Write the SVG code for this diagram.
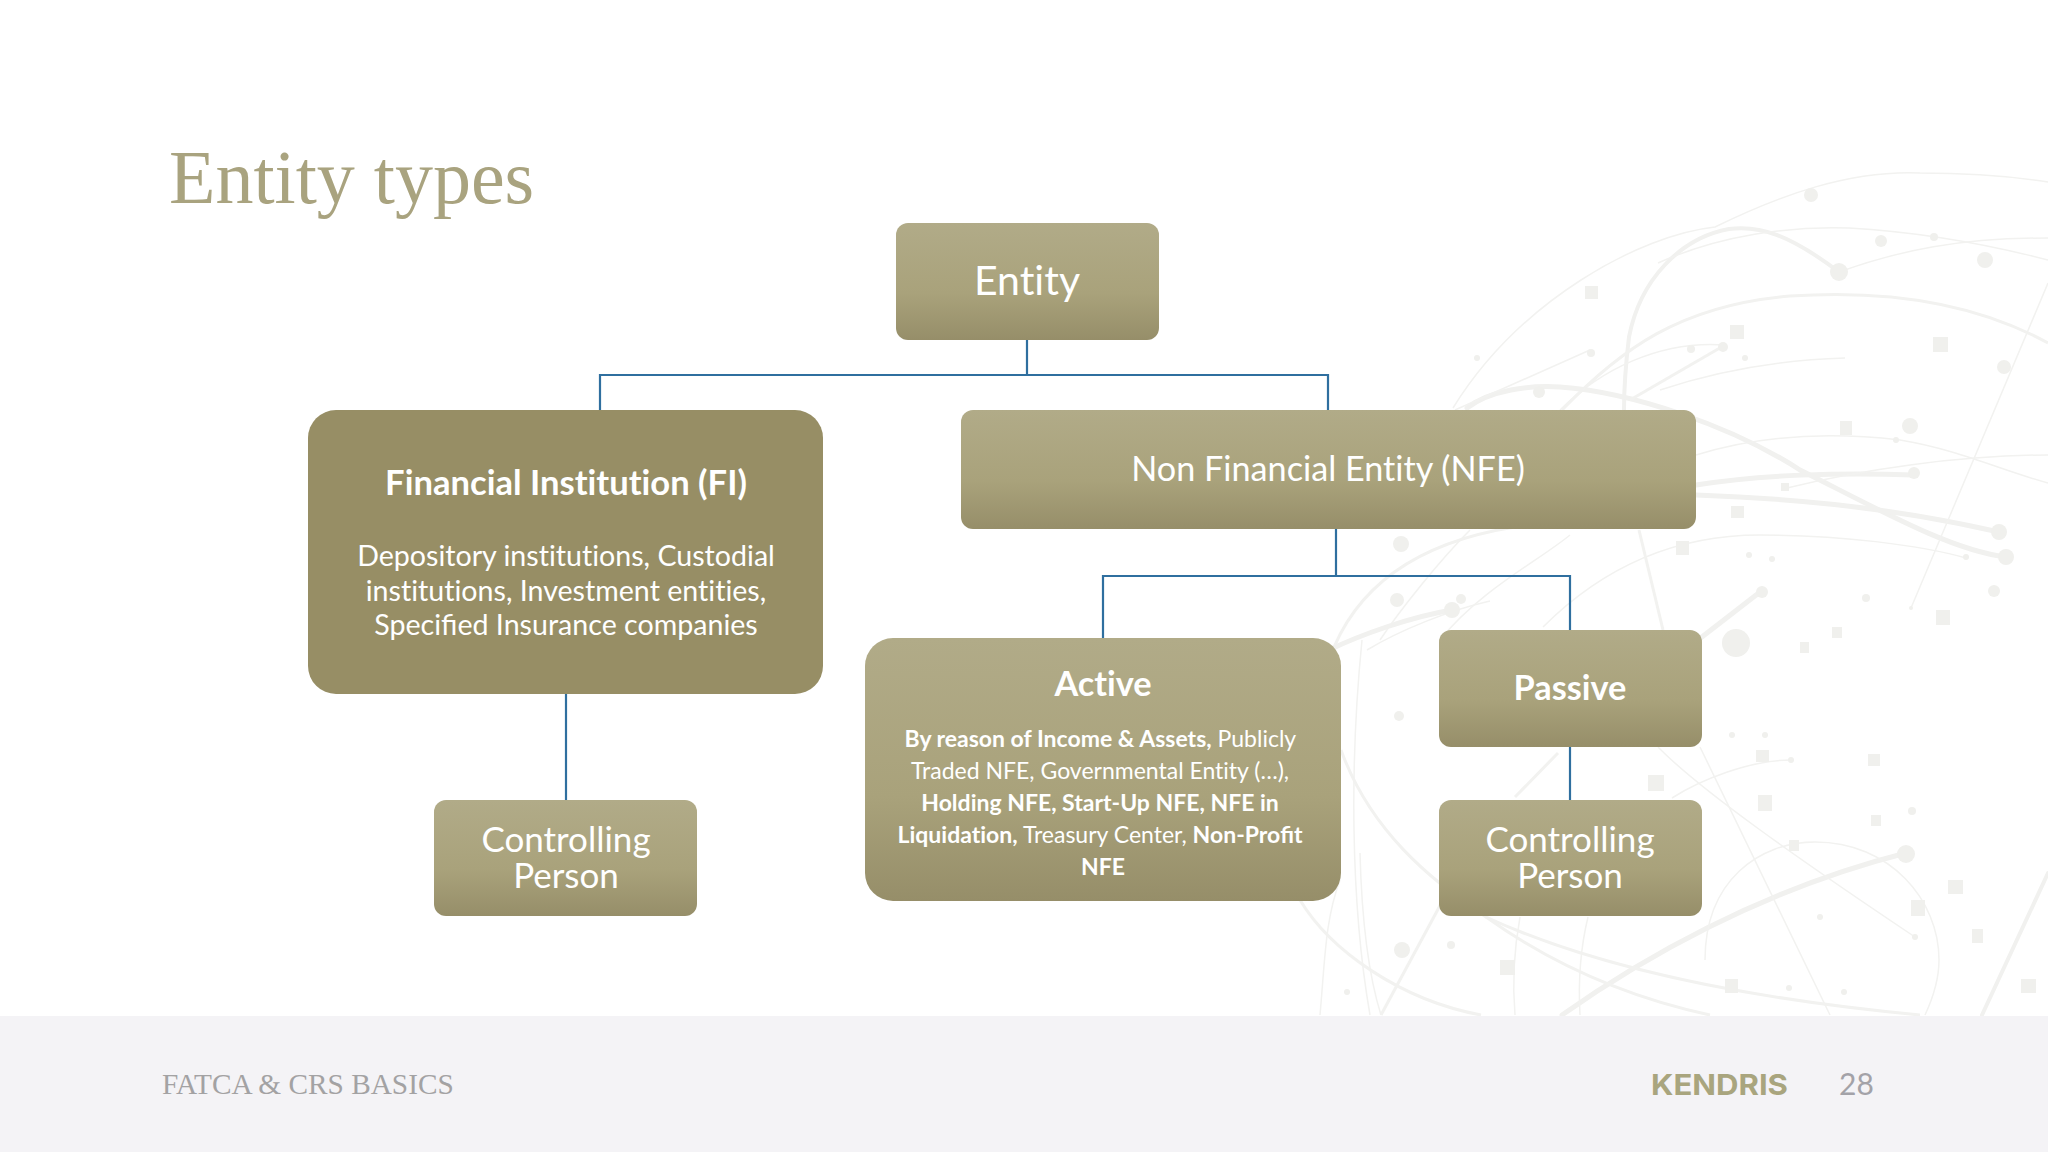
<svg xmlns="http://www.w3.org/2000/svg" width="2048" height="1152" viewBox="0 0 2048 1152">
<style>
.t{font-family:Lato,"Open Sans",sans-serif;fill:#fff;text-anchor:middle;font-variant-ligatures:none}
.b{font-weight:700}
.l{font-variant-ligatures:common-ligatures}
.c{fill:none;stroke:#2f6f9f;stroke-width:2.2}
.s1{fill:none;stroke:#f2f2f0;stroke-width:1.5}
.s2{fill:none;stroke:#f2f2f0;stroke-width:3}
.s3{fill:none;stroke:#f1f1ef;stroke-width:5;stroke-linecap:round}
.d{fill:#f0f0ed}
</style>
<defs>
<linearGradient id="g" x1="0" y1="0" x2="0" y2="1"><stop offset="0" stop-color="#b1ab88"/><stop offset=".6" stop-color="#a9a27b"/><stop offset="1" stop-color="#968e69"/></linearGradient>
</defs>
<rect width="2048" height="1152" fill="#fff"/>
<g id="background">
<path class="s1" d="M1453 408C1520 300 1640 235 1715 227C1780 195 1850 170 1920 173C1970 173 2010 176 2048 182"/>
<path class="s3" style="stroke-width:4" d="M1839 272C1790 235 1760 225 1729 229C1680 238 1640 280 1629 337C1625 370 1624 390 1624 410"/>
<path class="s1" d="M1839 272C1900 250 1960 238 2048 238"/>
<path class="s1" d="M1658 263C1720 235 1790 226 1849 228C1920 232 1990 245 2048 260"/>
<path class="s2" d="M1562 410C1620 350 1680 305 1790 296C1880 290 1970 300 2048 343"/>
<path class="s3" d="M1467 408C1490 390 1530 385 1560 387C1630 392 1730 425 1800 470C1880 510 1950 550 2006 557"/>
<path class="s1" d="M1696 455C1760 435 1830 432 1900 440C1960 450 2000 470 2048 483"/>
<path class="s3" d="M1696 485C1760 475 1840 472 1913 475"/>
<path class="s3" d="M1696 495C1780 498 1880 505 1999 532"/>
<path class="s1" d="M1787 488C1860 470 1960 455 2048 455"/>
<path class="s1" d="M1543 627C1600 570 1670 535 1760 535C1840 535 1920 545 1966 558"/>
<path class="s3" d="M1698 640L1760 592"/>
<path class="s1" d="M1911 608L2048 283"/>
<path class="s2" d="M1639 530L1663 630"/>
<path class="s2" d="M1329 660C1350 600 1400 545 1515 527"/>
<path class="s1" d="M1380 640C1400 610 1440 560 1470 530"/>
<path class="s1" d="M1367 650C1400 630 1450 610 1490 601"/>
<path class="s1" d="M1440 640C1480 590 1540 560 1570 535"/>
<path class="s3" d="M1329 650C1360 635 1410 617 1452 610"/>
<path class="s1" d="M1455 410L1590 350"/>
<path class="s1" d="M1560 410C1600 370 1660 340 1725 345"/>
<path class="s2" d="M1630 400L1725 345"/>
<path class="s1" d="M1660 390C1720 370 1780 360 1845 358"/>
<path class="s3" d="M1562 1015C1640 960 1760 890 1906 853"/>
<path class="s1" d="M1705 960C1705 880 1760 842 1815 842C1890 842 1939 900 1939 960C1939 980 1932 1000 1925 1015"/>
<path class="s3" style="stroke-width:4" d="M1982 1015L2048 873"/>
<path class="s2" d="M1341 750C1370 830 1430 880 1486 917C1560 970 1640 1000 1710 1015"/>
<path class="s2" d="M1300 900C1330 950 1400 1000 1481 1015"/>
<path class="s1" d="M1360 853C1362 930 1370 980 1381 1015"/>
<path class="s2" d="M1486 917C1600 970 1760 1000 1920 1015"/>
<path class="s1" d="M1672 798C1700 780 1750 760 1791 760"/>
<path class="s1" d="M1658 747C1700 790 1800 860 1915 937"/>
<path class="s1" d="M1700 747L1830 1015"/>
<path class="s2" d="M1381 1015L1443 900"/>
<path class="s2" d="M1515 797L1558 753"/>
<path class="s1" d="M1515 1015C1512 980 1514 950 1520 917"/>
<path class="s1" d="M1580 1015C1578 980 1580 950 1588 917"/>
<path class="s1" d="M1362 640C1350 760 1350 900 1370 1015"/>
<path class="s1" d="M1320 1015C1325 960 1325 920 1340 880"/>
<g class="d">
<circle cx="1811" cy="195" r="7"/><circle cx="1839" cy="272" r="9"/><circle cx="1881" cy="241" r="6"/><circle cx="1934" cy="237" r="4"/><circle cx="1985" cy="260" r="8"/>
<rect x="1585" y="286" width="13" height="13"/><rect x="1730" y="325" width="14" height="14"/><rect x="1933" y="337" width="15" height="15"/><rect x="1840" y="421" width="12" height="14"/><rect x="1731" y="506" width="13" height="12"/>
<circle cx="1910" cy="426" r="8"/><circle cx="1539" cy="392" r="6"/><circle cx="1477" cy="358" r="3"/><circle cx="1723" cy="347" r="5"/><circle cx="1591" cy="353" r="4"/><circle cx="1691" cy="349" r="4"/><circle cx="1745" cy="358" r="3"/><circle cx="2004" cy="367" r="7"/><circle cx="1914" cy="473" r="6"/><circle cx="1896" cy="440" r="3"/>
<circle cx="1999" cy="532" r="8"/><circle cx="2006" cy="557" r="8"/><rect x="1682" y="500" width="11" height="13"/><rect x="1781" y="483" width="8" height="8"/>
<circle cx="1401" cy="544" r="8"/><rect x="1676" y="541" width="13" height="14"/><circle cx="1749" cy="555" r="3"/><circle cx="1772" cy="559" r="3"/><circle cx="1966" cy="557" r="3"/>
<circle cx="1461" cy="599" r="5"/><circle cx="1397" cy="600" r="7"/><circle cx="1452" cy="610" r="8"/><circle cx="1762" cy="592" r="6"/><circle cx="1866" cy="598" r="4"/><circle cx="1994" cy="591" r="6"/><rect x="1936" y="610" width="14" height="15"/><rect x="1832" y="627" width="10" height="11"/><rect x="1800" y="642" width="9" height="11"/>
<circle cx="1736" cy="643" r="14"/><circle cx="1911" cy="608" r="2"/><circle cx="1399" cy="716" r="5"/><circle cx="1641" cy="663" r="2"/><circle cx="1732" cy="735" r="3"/><circle cx="1765" cy="735" r="3"/>
<rect x="1648" y="775" width="16" height="16"/><rect x="1756" y="750" width="13" height="12"/><rect x="1868" y="754" width="12" height="12"/><rect x="1758" y="795" width="14" height="16"/><rect x="1871" y="815" width="10" height="11"/>
<circle cx="1791" cy="760" r="3"/><circle cx="1912" cy="811" r="4"/><circle cx="1906" cy="854" r="9"/><rect x="1789" y="840" width="10" height="11"/><rect x="1948" y="880" width="15" height="14"/><rect x="1911" y="900" width="14" height="16"/><rect x="1972" y="929" width="11" height="14"/>
<rect x="1500" y="960" width="15" height="15"/><rect x="1725" y="979" width="13" height="14"/><rect x="2021" y="979" width="15" height="14"/><circle cx="1402" cy="950" r="8"/><circle cx="1451" cy="945" r="4"/><circle cx="1347" cy="992" r="3"/><circle cx="1789" cy="988" r="3"/><circle cx="1844" cy="992" r="3"/><circle cx="1820" cy="917" r="3"/><circle cx="1915" cy="937" r="3"/>
</g>
</g>
<rect id="footer-band" y="1016" width="2048" height="136" fill="#f4f3f6"/>
<text id="title" x="169" y="203" font-family="'Liberation Serif',serif" font-size="76" fill="#a9a37f">Entity types</text>
<g id="connectors">
<path class="c" d="M1027 340V375M600 410V375H1328V410"/>
<path class="c" d="M1336 529V576M1103 638V576H1570V630"/>
<path class="c" d="M566 694V800"/>
<path class="c" d="M1570 747V800"/>
</g>
<g id="entity"><rect x="896" y="223" width="263" height="117" rx="12" fill="url(#g)"/><text class="t" x="1027" y="295" font-size="41">Entity</text></g>
<g id="fi"><rect x="308" y="410" width="515" height="284" rx="28" fill="#978e65"/>
<text class="t b" x="566" y="495" font-size="34.6">Financial Institution (FI)</text>
<text class="t" font-size="28.6"><tspan x="566" y="566">Depository institutions, Custodial</tspan><tspan x="566" y="601">institutions, Investment entities,</tspan><tspan x="566" y="635">Speci<tspan class="l">fi</tspan>ed Insurance companies</tspan></text></g>
<g id="nfe"><rect x="961" y="410" width="735" height="119" rx="12" fill="url(#g)"/><text class="t" x="1328" y="481" font-size="34.2">Non Financial Entity (NFE)</text></g>
<g id="active"><rect x="865" y="638" width="476" height="263" rx="28" fill="url(#g)"/>
<text class="t b" x="1103" y="696" font-size="34.3">Active</text>
<text class="t" font-size="23">
<tspan x="1103" y="747"><tspan class="b">By reason of Income &amp; Assets,</tspan> Publicly</tspan>
<tspan x="1103" y="779">Traded NFE, Governmental Entity (…),</tspan>
<tspan x="1103" y="811" class="b">Holding NFE, Start-Up NFE, NFE in</tspan>
<tspan x="1103" y="843"><tspan class="b">Liquidation,</tspan> Treasury Center, <tspan class="b">Non-Pro<tspan class="l">fi</tspan>t</tspan></tspan>
<tspan x="1103" y="875" class="b">NFE</tspan></text></g>
<g id="passive"><rect x="1439" y="630" width="263" height="117" rx="12" fill="url(#g)"/><text class="t b" x="1570" y="700" font-size="34.3">Passive</text></g>
<g id="cp-left"><rect x="434" y="800" width="263" height="116" rx="12" fill="url(#g)"/><text class="t" font-size="35"><tspan x="566" y="852">Controlling</tspan><tspan x="566" y="888">Person</tspan></text></g>
<g id="cp-right"><rect x="1439" y="800" width="263" height="116" rx="12" fill="url(#g)"/><text class="t" font-size="35"><tspan x="1570" y="852">Controlling</tspan><tspan x="1570" y="888">Person</tspan></text></g>
<g id="footer">
<text x="162" y="1094" font-family="'Liberation Serif',serif" font-size="29.3" fill="#a3a2a3">FATCA &amp; CRS BASICS</text>
<text x="1651" y="1095" font-family="Inter,sans-serif" font-weight="700" font-size="29" fill="#a9a57e" textLength="137" lengthAdjust="spacingAndGlyphs">KENDRIS</text>
<text x="1839" y="1095" font-family="Lato,sans-serif" font-size="30" fill="#a3a2a8">28</text>
</g>
</svg>
